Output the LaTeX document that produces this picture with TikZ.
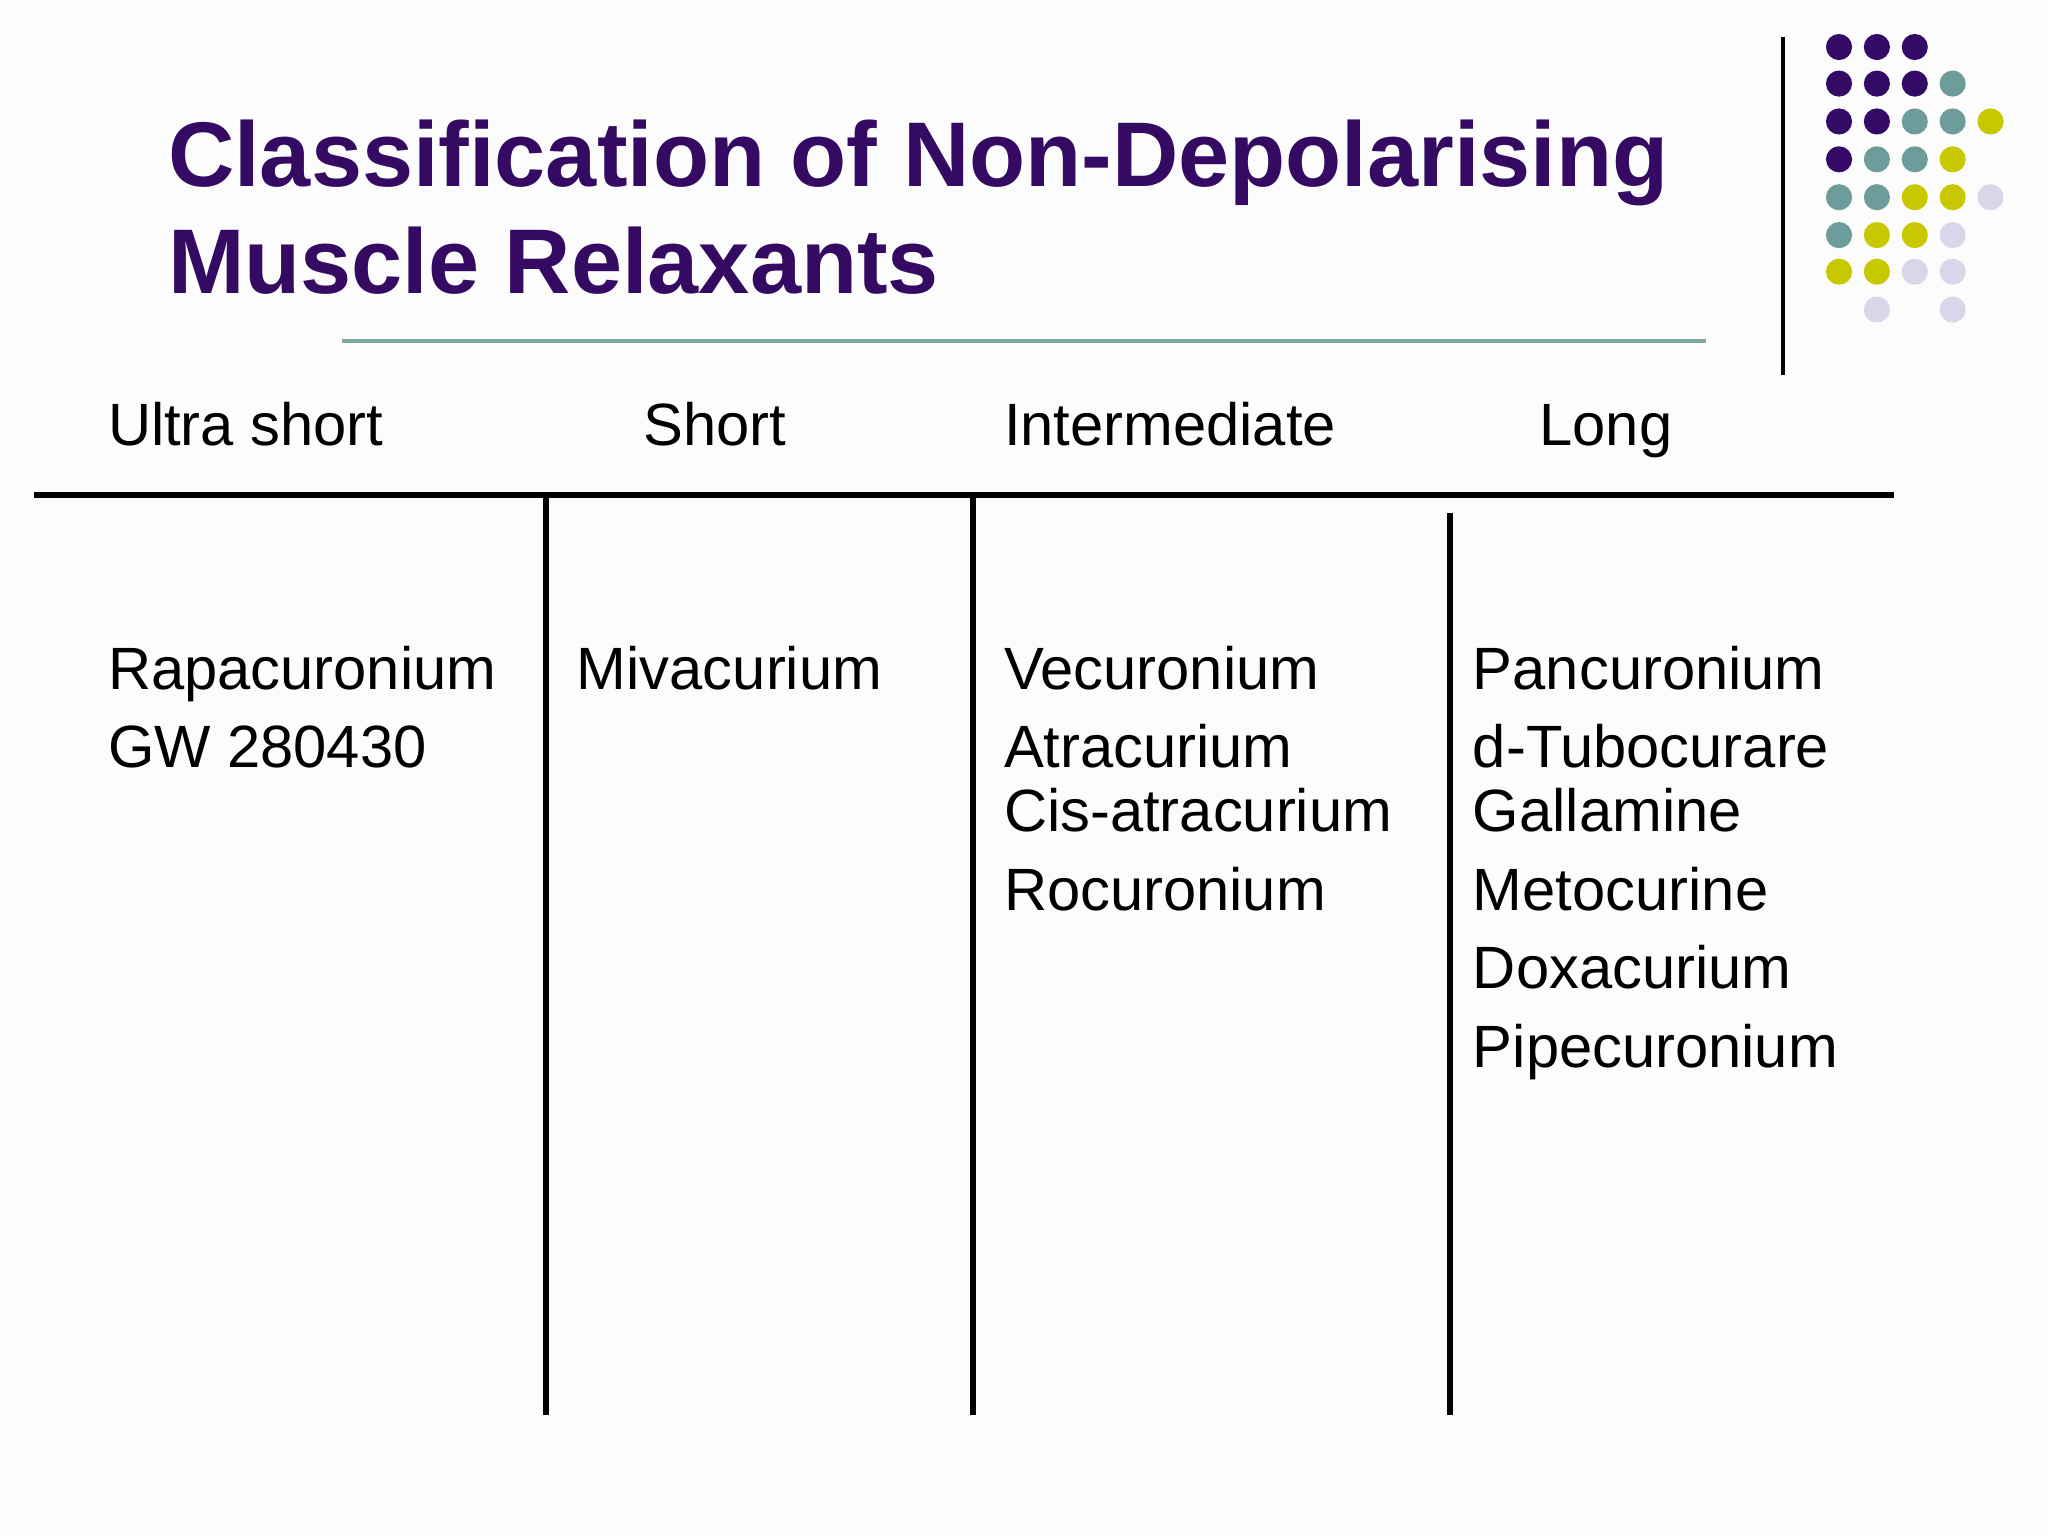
\documentclass[tikz,border=0pt]{standalone}
\usepackage{fontspec}
\setmainfont{Liberation Sans}
\definecolor{tpurple}{HTML}{340A63}
\definecolor{dP}{HTML}{330A66}
\definecolor{dT}{HTML}{6E9C9A}
\definecolor{dY}{HTML}{C8C800}
\definecolor{dL}{HTML}{D9D6EA}
\definecolor{rule}{HTML}{7FA8A0}
\begin{document}
\begin{tikzpicture}[x=0.01cm,y=-0.01cm,
  ttl/.style={anchor=base west,inner sep=0,font=\fontsize{20}{24}\selectfont\bfseries,text=tpurple},
  txt/.style={anchor=base west,inner sep=0,font=\fontsize{13}{16}\selectfont},
  sep/.style={line width=1.3pt}]
\fill[white!98!gray] (0,0) rectangle (1568,1176);
\useasboundingbox (0,0) rectangle (1568,1176);
% dots
\foreach \x/\y/\c in {1408/36/dP,1437/36/dP,1466/36/dP,
 1408/64/dP,1437/64/dP,1466/64/dP,1495/64/dT,
 1408/93/dP,1437/93/dP,1466/93/dT,1495/93/dT,1524/93/dY,
 1408/122/dP,1437/122/dT,1466/122/dT,1495/122/dY,
 1408/151/dT,1437/151/dT,1466/151/dY,1495/151/dY,1524/151/dL,
 1408/180/dT,1437/180/dY,1466/180/dY,1495/180/dL,
 1408/208/dY,1437/208/dY,1466/208/dL,1495/208/dL,
 1437/237/dL,1495/237/dL}
 \fill[\c] (\x,\y) circle[radius=10];
\coordinate (v1) at (1365,28); \coordinate (v2) at (1365,287);
\draw[line width=1pt] (v1) -- (v2);
\coordinate (r1) at (262,261); \coordinate (r2) at (1306,261);
\draw[rule,line width=0.8pt] (r1) -- (r2);
\node[ttl] (t1) at (128,143) {Classification of Non-Depolarising};
\node[ttl] (t2) at (128,225) {Muscle Relaxants};
% table
\coordinate (h1) at (26,379); \coordinate (h2) at (1450,379);
\draw[sep] (h1) -- (h2);
\coordinate (a1) at (418,379); \coordinate (a2) at (418,1083);
\coordinate (b1) at (745,379); \coordinate (b2) at (745,1083);
\coordinate (c1) at (1110,393); \coordinate (c2) at (1110,1083);
\draw[sep] (a1) -- (a2); \draw[sep] (b1) -- (b2); \draw[sep] (c1) -- (c2);
\node[txt] (hu) at (82,341) {Ultra short};
\node[txt] (hs) at (492,341) {Short};
\node[txt] (hi) at (768,341) {Intermediate};
\node[txt] (hl) at (1178,341) {Long};
\node[txt] (u1) at (82,528) {Rapacuronium};
\node[txt] (u2) at (82,588) {GW 280430};
\node[txt] (s1) at (441,528) {Mivacurium};
\node[txt] (i1) at (768,528) {Vecuronium};
\node[txt] (i2) at (768,588) {Atracurium};
\node[txt] (i3) at (768,637) {Cis-atracurium};
\node[txt] (i4) at (768,697) {Rocuronium};
\node[txt] (l1) at (1127,528) {Pancuronium};
\node[txt] (l2) at (1127,588) {d-Tubocurare};
\node[txt] (l3) at (1127,637) {Gallamine};
\node[txt] (l4) at (1127,697) {Metocurine};
\node[txt] (l5) at (1127,757) {Doxacurium};
\node[txt] (l6) at (1127,817) {Pipecuronium};
\end{tikzpicture}
\end{document}
